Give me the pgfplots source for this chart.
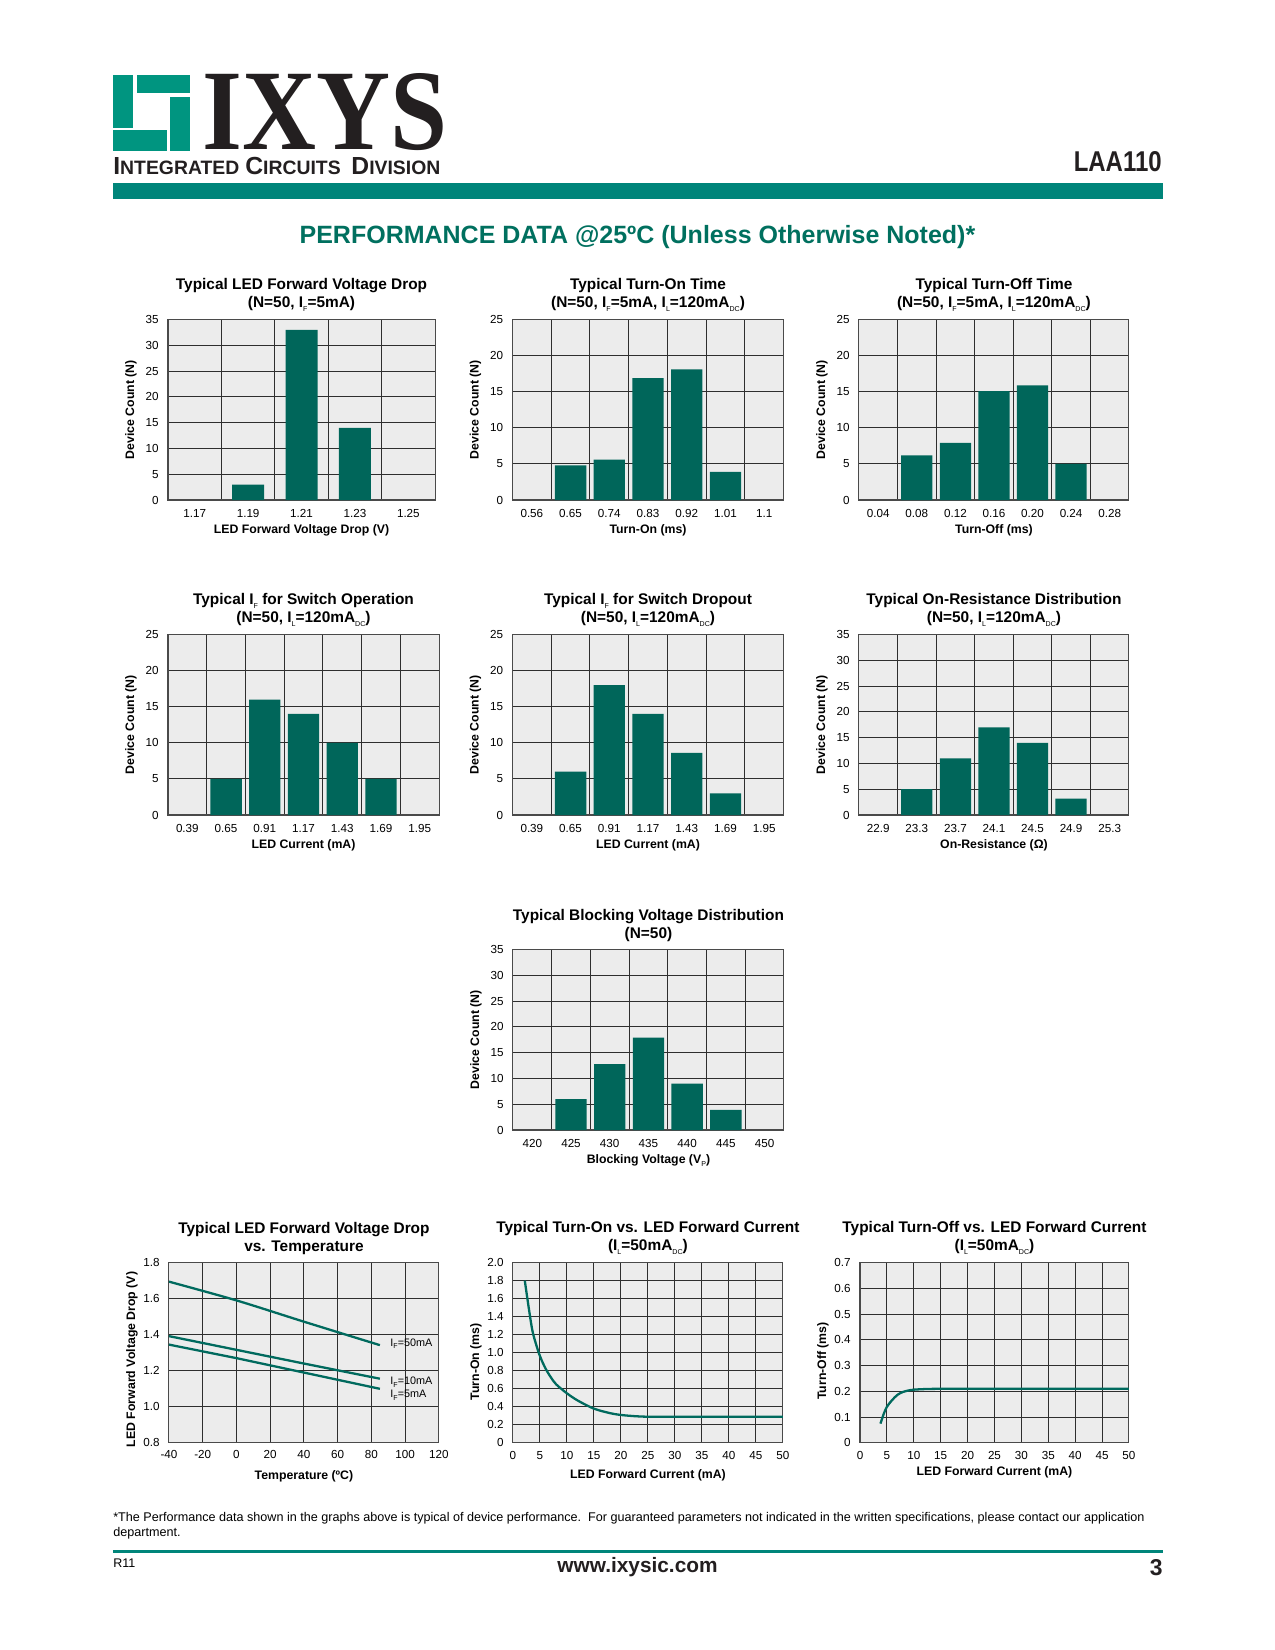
\documentclass[border=0pt]{standalone}
\usepackage{fontspec}
\setmainfont{Liberation Sans}
\newfontfamily\seriffont{Liberation Serif}
\usepackage{graphicx}
\usepackage{pgfplots}
\pgfplotsset{compat=1.18}

\definecolor{barc}{HTML}{00665A}
\definecolor{linec}{HTML}{006A5E}
\definecolor{bgc}{HTML}{ECECEC}
\definecolor{gridc}{HTML}{2E2E2E}
\definecolor{boxc}{HTML}{4A4A4A}
\definecolor{hbarc}{HTML}{00857A}
\definecolor{logoc}{HTML}{009580}
\definecolor{titc}{HTML}{00705F}
\definecolor{ink}{HTML}{231F20}

\newcommand{\titf}{\fontsize{7.4}{8.6}\selectfont\bfseries}
\newcommand{\tickf}{\fontsize{5.6}{6.5}\selectfont}
\newcommand{\labf}{\fontsize{5.9}{7}\selectfont\bfseries}
\newcommand{\sbs}[1]{\raisebox{-0.5ex}{\fontsize{3.4}{4}\selectfont\mdseries #1}}
\newcommand{\bigc}{\fontsize{11.85}{12}\selectfont\bfseries}
\newcommand{\smc}{\fontsize{9.3}{12}\selectfont\bfseries}

\pgfplotsset{
  base/.style={
    scale only axis, height=86.6pt, anchor=south west,
    axis background/.style={fill=bgc},
    axis line style={draw=boxc, line width=0.5pt},
    major tick length=0pt, minor tick length=0pt,
    tick style={draw=none},
    major grid style={draw=gridc, line width=0.45pt},
    minor grid style={draw=gridc, line width=0.45pt},
    /pgf/number format/assume math mode=true,
    tick label style={font=\tickf, inner sep=0pt},
    y tick label style={xshift=-4.3pt},
    every axis title/.style={at={(axis description cs:0.5,1)}, anchor=south, yshift=3.5pt, align=center, font=\titf, inner sep=0pt},
    every axis x label/.style={at={(axis description cs:0.5,0)}, anchor=center, yshift=-14.6pt, font=\labf, inner sep=0pt},
    every axis y label/.style={at={(axis description cs:0,0.5)}, xshift=-17.8pt, rotate=90, anchor=center, font=\labf, inner sep=0pt},
  },
  hist/.style={
    base, ylabel={Device Count (N)}, xmin=0, ymin=0,
    xmajorgrids=false, xminorgrids=true, ymajorgrids=true,
    x tick label style={yshift=-4.3pt},
  },
  hist7/.style={
    hist, xmax=7, xtick={0.5,1.5,2.5,3.5,4.5,5.5,6.5}, minor xtick={1,2,3,4,5,6}, width=130.1pt,
  },
  histbar/.style={ybar, bar width=0.81, fill=barc, draw=none},
  crv/.style={draw=linec, line width=1.1pt},
}

\begin{document}
\begin{tikzpicture}
\useasboundingbox[fill=white] (0,0) rectangle (612pt,-792pt);

% ---------- header ----------
\fill[logoc] (54.4pt,-36pt) rectangle (64pt,-61.6pt);
\fill[logoc] (65.6pt,-36pt) rectangle (91.2pt,-44.8pt);
\fill[logoc] (81.6pt,-46.4pt) rectangle (91.2pt,-72.3pt);
\fill[logoc] (54.4pt,-62.4pt) rectangle (80pt,-72.3pt);
\node[anchor=south west, inner sep=0pt, text=ink] at (97pt,-72.5pt)
  {\resizebox{117.5pt}{36.5pt}{\seriffont\bfseries IXYS}};
\node[anchor=base west, inner sep=0pt, text=ink] at (54.2pt,-84pt) {\bigc I\smc NTEGRATED};
\node[anchor=base west, inner sep=0pt, text=ink] at (117.6pt,-84pt) {\bigc C\smc IRCUITS};
\node[anchor=base west, inner sep=0pt, text=ink] at (168.5pt,-84pt) {\bigc D\smc IVISION};
\node[anchor=south east, inner sep=0pt, text=ink] at (557.8pt,-82.6pt)
  {\resizebox{42.2pt}{9.6pt}{\bfseries LAA110}};
\fill[hbarc] (54.2pt,-87.8pt) rectangle (558.2pt,-95.5pt);
\node[text=titc, font=\fontsize{12}{14}\selectfont\bfseries] at (306pt,-113.8pt)
  {PERFORMANCE DATA @25ºC (Unless Otherwise Noted)*};

% ---------- row 1 ----------
\begin{axis}[hist, at={(80.64pt,-240pt)}, width=128.2pt, xmax=5,
  xtick={0.5,1.5,2.5,3.5,4.5}, minor xtick={1,2,3,4},
  xticklabels={1.17,1.19,1.21,1.23,1.25},
  ymax=35, ytick={0,5,...,35},
  title={Typical LED Forward Voltage Drop\\(N=50, I\sbs{F}=5mA)},
  xlabel={LED Forward Voltage Drop (V)}]
\addplot[histbar, bar width=0.6] coordinates {(1.5,3) (2.5,33) (3.5,14)};
\end{axis}

\begin{axis}[hist7, at={(246pt,-240pt)},
  xticklabels={0.56,0.65,0.74,0.83,0.92,1.01,1.1},
  ymax=25, ytick={0,5,...,25},
  title={Typical Turn-On Time\\(N=50, I\sbs{F}=5mA, I\sbs{L}=120mA\sbs{DC})},
  xlabel={Turn-On (ms)}]
\addplot[histbar] coordinates {(1.5,4.8) (2.5,5.6) (3.5,16.9) (4.5,18.1) (5.5,3.9)};
\end{axis}

\begin{axis}[hist7, at={(412.3pt,-240pt)}, width=129.6pt,
  xticklabels={0.04,0.08,0.12,0.16,0.20,0.24,0.28},
  ymax=25, ytick={0,5,...,25},
  title={Typical Turn-Off Time\\(N=50, I\sbs{F}=5mA, I\sbs{L}=120mA\sbs{DC})},
  xlabel={Turn-Off (ms)}]
\addplot[histbar] coordinates {(1.5,6.2) (2.5,7.9) (3.5,15.1) (4.5,15.9) (5.5,5)};
\end{axis}

% ---------- row 2 ----------
\begin{axis}[hist7, at={(80.64pt,-391.2pt)},
  xticklabels={0.39,0.65,0.91,1.17,1.43,1.69,1.95},
  ymax=25, ytick={0,5,...,25},
  title={Typical I\sbs{F} for Switch Operation\\(N=50, I\sbs{L}=120mA\sbs{DC})},
  xlabel={LED Current (mA)}]
\addplot[histbar] coordinates {(1.5,5) (2.5,16) (3.5,14) (4.5,10) (5.5,5)};
\end{axis}

\begin{axis}[hist7, at={(246pt,-391.2pt)},
  xticklabels={0.39,0.65,0.91,1.17,1.43,1.69,1.95},
  ymax=25, ytick={0,5,...,25},
  title={Typical I\sbs{F} for Switch Dropout\\(N=50, I\sbs{L}=120mA\sbs{DC})},
  xlabel={LED Current (mA)}]
\addplot[histbar] coordinates {(1.5,6) (2.5,18) (3.5,14) (4.5,8.6) (5.5,3)};
\end{axis}

\begin{axis}[hist7, at={(412.3pt,-391.2pt)}, width=129.6pt,
  xticklabels={22.9,23.3,23.7,24.1,24.5,24.9,25.3},
  ymax=35, ytick={0,5,...,35},
  title={Typical On-Resistance Distribution\\(N=50, I\sbs{L}=120mA\sbs{DC})},
  xlabel={On-Resistance (Ω)}]
\addplot[histbar] coordinates {(1.5,5) (2.5,11) (3.5,17) (4.5,14) (5.5,3.2)};
\end{axis}

% ---------- row 3 ----------
\begin{axis}[hist7, at={(246.2pt,-542.4pt)},
  xticklabels={420,425,430,435,440,445,450},
  ymax=35, ytick={0,5,...,35},
  title={Typical Blocking Voltage Distribution\\(N=50)},
  xlabel={Blocking Voltage (V\sbs{P})}]
\addplot[histbar] coordinates {(1.5,6) (2.5,12.8) (3.5,17.9) (4.5,9) (5.5,3.9)};
\end{axis}

% ---------- row 4 ----------
\begin{axis}[base, at={(81.1pt,-692.6pt)}, width=129.6pt, grid=major,
  xmin=-40, xmax=120, ymin=0.8, ymax=1.8,
  xtick={-40,-20,0,20,40,60,80,100,120},
  xticklabels={-40,-20,0,20,40,60,80,100,120},
  ytick={0.8,1,1.2,1.4,1.6,1.8},
  yticklabels={0.8,1.0,1.2,1.4,1.6,1.8},
  x tick label style={yshift=-3.6pt},
  every axis x label/.append style={yshift=-1.3pt},
  every axis y label/.append style={xshift=-3.2pt},
  title={Typical LED Forward Voltage Drop\\vs. Temperature},
  xlabel={Temperature (ºC)}, ylabel={LED Forward Voltage Drop (V)}]
\addplot[crv, smooth] coordinates {(-40,1.694) (0,1.59) (40,1.472) (85,1.342)};
\addplot[crv] coordinates {(-40,1.392) (0,1.316) (40,1.24) (85,1.156)};
\addplot[crv] coordinates {(-40,1.345) (0,1.27) (40,1.19) (85,1.10)};
\node[anchor=west, inner sep=0pt, font=\fontsize{5.2}{6}\selectfont] at (axis cs:91,1.35) {I\sbs{F}=50mA};
\node[anchor=west, inner sep=0pt, font=\fontsize{5.2}{6}\selectfont] at (axis cs:91,1.137) {I\sbs{F}=10mA};
\node[anchor=west, inner sep=0pt, font=\fontsize{5.2}{6}\selectfont] at (axis cs:91,1.062) {I\sbs{F}=5mA};
\end{axis}

\begin{axis}[base, at={(246.2pt,-692.6pt)}, width=129.6pt, grid=major,
  xmin=0, xmax=50, ymin=0, ymax=2,
  xtick={0,5,10,15,20,25,30,35,40,45,50},
  xticklabels={0,5,10,15,20,25,30,35,40,45,50},
  ytick={0,0.2,0.4,0.6,0.8,1,1.2,1.4,1.6,1.8,2},
  yticklabels={0,0.2,0.4,0.6,0.8,1.0,1.2,1.4,1.6,1.8,2.0},
  x tick label style={yshift=-3.8pt},
  every axis x label/.append style={yshift=-0.9pt},
  every axis y label/.append style={xshift=-4.4pt},
  title={Typical Turn-On vs. LED Forward Current\\(I\sbs{L}=50mA\sbs{DC})},
  xlabel={LED Forward Current (mA)}, ylabel={Turn-On (ms)}]
\addplot[crv, smooth] coordinates {(2.2,1.80) (3,1.47) (3.7,1.22) (4.9,0.98) (6,0.83) (7,0.73) (8,0.65) (10,0.55) (12,0.47) (15,0.38) (18,0.33) (20,0.31) (23,0.295) (26,0.29) (35,0.29) (50,0.29)};
\end{axis}

\begin{axis}[base, at={(412.8pt,-692.6pt)}, width=129.1pt, grid=major,
  xmin=0, xmax=50, ymin=0, ymax=0.7,
  xtick={0,5,10,15,20,25,30,35,40,45,50},
  xticklabels={0,5,10,15,20,25,30,35,40,45,50},
  ytick={0,0.1,0.2,0.3,0.4,0.5,0.6,0.7},
  yticklabels={0,0.1,0.2,0.3,0.4,0.5,0.6,0.7},
  x tick label style={yshift=-3.8pt},
  every axis x label/.append style={yshift=0.3pt},
  every axis y label/.append style={xshift=-4.0pt},
  title={Typical Turn-Off vs. LED Forward Current\\(I\sbs{L}=50mA\sbs{DC})},
  xlabel={LED Forward Current (mA)}, ylabel={Turn-Off (ms)}]
\addplot[crv, smooth] coordinates {(3.8,0.075) (4.4,0.112) (5,0.14) (6,0.167) (7,0.187) (8,0.198) (9.4,0.205) (11,0.208) (15,0.21) (30,0.21) (50,0.21)};
\end{axis}

% ---------- footer ----------
\node[anchor=north west, inner sep=0pt] at (54.2pt,-725pt)
  {\resizebox{495pt}{!}{\fontsize{6}{7.2}\selectfont\begin{tabular}{@{}l@{}}*The Performance data shown in the graphs above is typical of device performance.\ \ For guaranteed parameters not indicated in the written specifications, please contact our application\\department.\end{tabular}}};
\fill[hbarc] (54.2pt,-743.8pt) rectangle (558.2pt,-745.3pt);
\node[anchor=west, inner sep=0pt, font=\fontsize{6}{7}\selectfont] at (54.2pt,-750.4pt) {R11};
\node[font=\fontsize{10}{12}\selectfont\bfseries, text=ink] at (306pt,-752.4pt) {www.ixysic.com};
\node[anchor=east, inner sep=0pt, font=\fontsize{11}{12}\selectfont\bfseries, text=ink] at (558.2pt,-752.4pt) {3};
\end{tikzpicture}
\end{document}
